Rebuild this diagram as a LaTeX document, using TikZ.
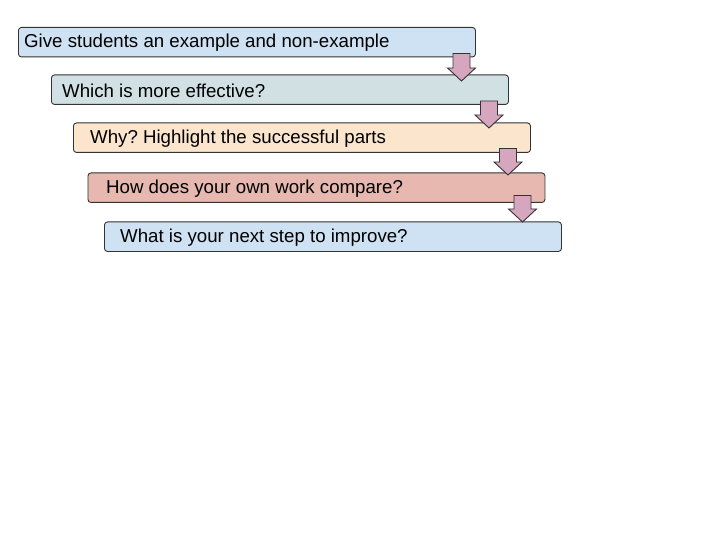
\documentclass[tikz,border=0pt]{standalone}
\usepackage{fontspec}
\setmainfont{Liberation Sans}
\frenchspacing
\definecolor{cA}{HTML}{CFE2F3}
\definecolor{cB}{HTML}{D0E0E3}
\definecolor{cC}{HTML}{FCE5CD}
\definecolor{cD}{HTML}{E6B8AF}
\definecolor{cArrow}{HTML}{D5A6BD}
\definecolor{cLine}{HTML}{333333}
\tikzset{
  stepbox/.style={draw=cLine, line width=0.9bp, rounded corners=3bp, anchor=north west,
    minimum width=457bp, minimum height=29.5bp, inner sep=0pt},
  steptext/.style={anchor=west, inner sep=0pt, font=\fontsize{18.67bp}{22bp}\selectfont, text=black},
  blockarrow/.style={draw=cLine, line width=0.9bp, fill=cArrow, line join=miter}
}
\newcommand{\blockarr}[3]{% center x, top y, tip y
  \draw[blockarrow] ({#1-8.5},#2) -- ({#1+8.5},#2) -- ({#1+8.5},{#3-13}) -- ({#1+14},{#3-13})
    -- (#1,#3) -- ({#1-14},{#3-13}) -- ({#1-8.5},{#3-13}) -- cycle;}
\begin{document}
\begin{tikzpicture}[x=1bp,y=-1bp]
\useasboundingbox[fill=white] (0,0) rectangle (720,540);
\node[stepbox, fill=cA] (b1) at (18,27) {};
\node[stepbox, fill=cB] (b2) at (51,74.5) {};
\node[stepbox, fill=cC] (b3) at (73,122.5) {};
\node[stepbox, fill=cD] (b4) at (87.5,172.5) {};
\node[stepbox, fill=cA] (b5) at (104,221.5) {};
\node[steptext] (t1) at ([xshift=6bp,yshift=-0.8bp]b1.west) {Give students an example and non-example};
\node[steptext] (t2) at ([xshift=11bp,yshift=-0.8bp]b2.west) {Which is more effective?};
\node[steptext] (t3) at ([xshift=17bp,yshift=-0.8bp]b3.west) {Why? Highlight the successful parts};
\node[steptext] (t4) at ([xshift=18.5bp,yshift=-0.8bp]b4.west) {How does your own work compare?};
\node[steptext] (t5) at ([xshift=16bp,yshift=-0.8bp]b5.west) {What is your next step to improve?};
\blockarr{461.5}{53.5}{81}
\blockarr{489}{101}{128}
\blockarr{508}{148.5}{175}
\blockarr{522.5}{195.5}{222}
\end{tikzpicture}
\end{document}
